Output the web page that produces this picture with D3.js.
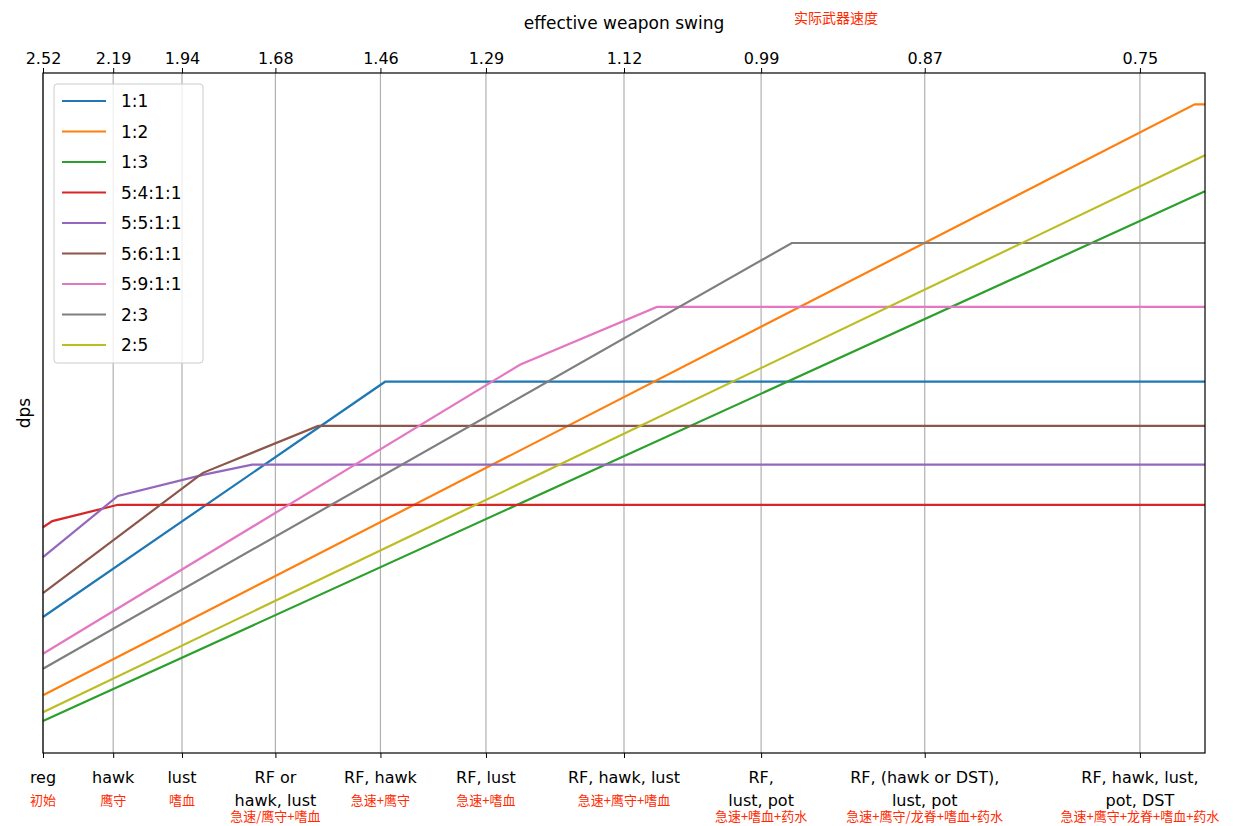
<!DOCTYPE html>
<html><head><meta charset="utf-8">
<script src="https://cdn.jsdelivr.net/npm/d3@7"></script>
<style>body{margin:0;background:#fff;font-family:"DejaVu Sans",sans-serif}</style>
</head><body>
<svg id="chart" width="1233" height="826"></svg>
<script>
// x = haste multiplier, y = relative dps
const tickHaste = [1, 1.151, 1.299, 1.5, 1.726, 1.953, 2.25, 2.545, 2.897, 3.36];
const swingLabels = ["2.52", "2.19", "1.94", "1.68", "1.46", "1.29", "1.12", "0.99", "0.87", "0.75"];
const buffLabels = [["reg"], ["hawk"], ["lust"], ["RF or", "hawk, lust"], ["RF, hawk"], ["RF, lust"],
  ["RF, hawk, lust"], ["RF,", "lust, pot"], ["RF, (hawk or DST),", "lust, pot"], ["RF, hawk, lust,", "pot, DST"]];
const buffLabelsCn = ["初始", "鹰守", "嗜血", "急速/鹰守+嗜血", "急速+鹰守", "急速+嗜血", "急速+鹰守+嗜血",
  "急速+嗜血+药水", "急速+鹰守/龙脊+嗜血+药水", "急速+鹰守+龙脊+嗜血+药水"];

const names = ["1:1", "1:2", "1:3", "5:4:1:1", "5:5:1:1", "5:6:1:1", "5:9:1:1", "2:3", "2:5"];
const colors = ["#1f77b4", "#ff7f0e", "#2ca02c", "#d62728", "#9467bd", "#8c564b", "#e377c2", "#7f7f7f", "#bcbd22"];
const s11 = [[1, 20.0], [1.736, 54.6], [3.5, 54.6]];
const s12 = [[1, 8.5], [3.478, 95.4], [3.5, 95.4]];
const s13 = [[1, 4.7], [3.5, 82.6]];
const s5411 = [[1, 33.2], [1.02, 34.1], [1.161, 36.5], [3.5, 36.5]];
const s5511 = [[1, 28.8], [1.161, 37.8], [1.344, 40.9], [1.45, 42.4], [3.5, 42.4]];
const s5611 = [[1, 23.5], [1.344, 41.2], [1.592, 48.1], [3.5, 48.1]];
const s5911 = [[1, 14.6], [2.026, 57.1], [2.321, 65.6], [3.5, 65.6]];
const s23 = [[1, 12.4], [2.611, 75.0], [3.5, 75.0]];
const s25 = [[1, 6.0], [3.5, 87.9]];
const series = [s11, s12, s13, s5411, s5511, s5611, s5911, s23, s25];

const svg = d3.select("#chart");
const L = 43, R = 1205, T = 73, B = 753;
const x = d3.scaleLinear().domain([1, 3.5]).range([L, R]);
const y = d3.scaleLinear().domain([0, 100]).range([B, T]);

// grid
svg.append("g").selectAll("line").data(tickHaste).join("line")
  .attr("x1", d => x(d)).attr("x2", d => x(d)).attr("y1", T).attr("y2", B)
  .attr("stroke", "#b0b0b0").attr("stroke-width", 1.2);

const line = d3.line().x(d => x(d[0])).y(d => y(d[1]));
svg.append("g").selectAll("path").data(series).join("path")
  .attr("d", line).attr("fill", "none")
  .attr("stroke", (d, i) => colors[i]).attr("stroke-width", 2.2);

svg.append("rect").attr("x", L).attr("y", T).attr("width", R - L).attr("height", B - T)
  .attr("fill", "none").attr("stroke", "#000").attr("stroke-width", 1.2);

// top axis
const topAxis = svg.append("g").attr("transform", `translate(0,${T})`)
  .call(d3.axisTop(x).tickValues(tickHaste).tickFormat((d, i) => swingLabels[i]).tickSize(5).tickPadding(4));
topAxis.select(".domain").remove();
topAxis.selectAll("text").style("font-size", "16px").attr("fill", "#000").style("font-family", "DejaVu Sans");

// bottom axis
const botAxis = svg.append("g").attr("transform", `translate(0,${B})`)
  .call(d3.axisBottom(x).tickValues(tickHaste).tickFormat("").tickSize(5));
botAxis.select(".domain").remove();

const lab = svg.append("g").selectAll("g").data(tickHaste).join("g")
  .attr("transform", d => `translate(${x(d)},0)`);
lab.each(function(d, i) {
  const g = d3.select(this);
  buffLabels[i].forEach((t, j) => g.append("text").attr("y", 783 + j * 23)
    .attr("text-anchor", "middle").style("font-size", "16px").text(t));
  g.append("text").attr("y", buffLabels[i].length > 1 ? 821 : 805)
    .attr("text-anchor", "middle").style("font-size", "13px").attr("fill", "#ff2a00")
    .style("font-family", "Noto Sans CJK SC").text(buffLabelsCn[i]);
});

svg.append("text").attr("x", 624).attr("y", 29).attr("text-anchor", "middle")
  .style("font-size", "17px").text("effective weapon swing");
svg.append("text").attr("x", 836).attr("y", 23).attr("text-anchor", "middle")
  .style("font-size", "14px").attr("fill", "#ff2a00").style("font-family", "Noto Sans CJK SC").text("实际武器速度");
svg.append("text").attr("transform", `translate(30,${(T + B) / 2}) rotate(-90)`)
  .attr("text-anchor", "middle").style("font-size", "17px").text("dps");

// legend
const lg = svg.append("g").attr("transform", "translate(54,84)");
lg.append("rect").attr("width", 149).attr("height", 279).attr("rx", 3)
  .attr("fill", "#fff").attr("fill-opacity", 0.8).attr("stroke", "#ccc");
names.forEach((n, i) => {
  const yy = 17 + i * 30.5;
  lg.append("line").attr("x1", 8).attr("x2", 52).attr("y1", yy).attr("y2", yy)
    .attr("stroke", colors[i]).attr("stroke-width", 2.2);
  lg.append("text").attr("x", 67).attr("y", yy + 6).style("font-size", "17px").text(n);
});
</script>
</body></html>
